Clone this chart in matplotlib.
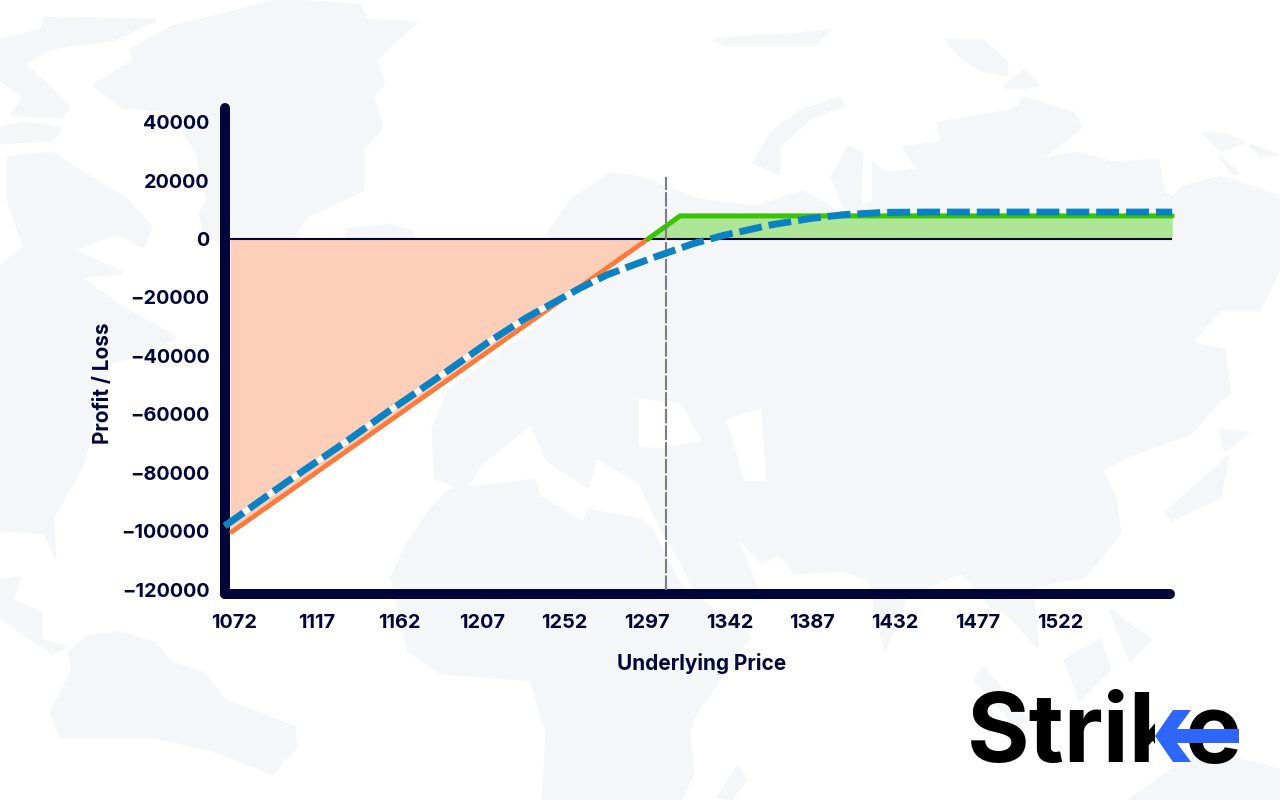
import numpy as np
import matplotlib
matplotlib.use("Agg")
import matplotlib.pyplot as plt
from matplotlib.patches import Polygon, Rectangle

# Chart values
x_ticks = [1072, 1117, 1162, 1207, 1252, 1297, 1342, 1387, 1432, 1477, 1522]
y_ticks = [40000, 20000, 0, -20000, -40000, -60000, -80000, -100000, -120000]

payoff_x = [1070, 1297.5, 1315, 1583]
payoff_y = [-100500, 0, 7900, 7900]

today_x = [1067, 1100, 1133.5, 1156, 1167, 1189, 1210, 1231, 1260.5, 1275, 1299.7, 1307.5, 1322, 1339, 1365, 1387, 1404, 1426, 1450, 1583]
today_y = [-98100, -83400, -69100, -59000, -54300, -44800, -35500, -27000, -16800, -12300, -6500, -4800, -1600, 1300, 4900, 7100, 8300, 9100, 9200, 9200]

current_price = 1307.5
navy = "#00053a"
font = "Inter"

# faint world map behind the chart, in pixels
land = [
    [(94,85),(135,60),(130,50),(171,27),(229,13),(278,0),(359,5),(367,20),(416,23),(375,60),(384,83),(373,97),(382,127),(363,150),(363,190),(306,217),(294,237),(229,247),(204,233),(200,213),(208,200),(196,150),(182,130),(192,113),(122,107)],
    [(0,40),(41,30),(45,18),(155,20),(114,40),(53,48),(24,63),(41,80),(69,107),(61,117),(12,115),(24,97),(0,80)],
    [(0,128),(24,123),(61,128),(53,140),(0,143)],
    [(8,157),(53,153),(73,167),(127,200),(151,227),(143,247),(118,233),(73,250),(122,273),(78,277),(122,307),(175,337),(147,353),(110,363),(82,467),(53,517),(55,557),(45,533),(0,530),(0,267),(24,247),(8,200)],
    [(0,580),(20,578),(12,600),(41,613),(41,640),(65,647),(53,653),(33,640),(0,617)],
    [(86,637),(118,632),(155,643),(171,663),(204,673),(224,700),(294,727),(296,747),(273,773),(212,750),(155,737),(61,737),(51,713),(73,670),(69,653)],
    [(347,240),(347,230),(390,225),(412,232),(412,240)],
    [(449,490),(535,480),(539,497),(584,523),(588,510),(640,520),(652,530),(681,587),(750,637),(693,717),(689,733),(693,773),(681,800),(543,800),(547,733),(531,680),(441,673),(408,650),(392,577),(408,543),(433,507)],
    [(433,428),(435,478),(465,490),(480,465),(531,423),(547,460),(588,487),(596,457),(640,483),(662,530),(681,560),(693,587),(762,600),(734,533),(762,563),(779,553),(795,573),(844,570),(869,580),(885,650),(905,600),(934,583),(962,573),(975,587),(991,607),(1007,613),(1038,647),(1032,587),(1064,580),(1085,577),(1120,533),(1115,497),(1101,470),(1126,457),(1191,433),(1220,400),(1230,393),(1224,350),(1191,343),(1220,310),(1260,310),(1280,267),(1280,197),(1220,177),(1183,187),(1173,197),(1164,193),(1158,160),(1113,163),(1077,153),(1040,160),(1081,127),(1073,113),(1024,98),(1015,110),(938,123),(942,143),(903,147),(918,170),(885,173),(873,163),(873,203),(840,213),(803,192),(754,207),(700,200),(640,178),(612,173),(571,200),(549,233),(575,285),(551,317),(449,390)],
    [(754,163),(771,133),(803,110),(840,98),(844,105),(811,117),(779,147),(779,173)],
    [(832,177),(848,147),(862,153),(860,207),(844,207)],
    [(1166,513),(1228,457),(1220,497),(1171,520)],
    [(1220,430),(1248,433),(1225,450)],
    [(1203,133),(1227,135),(1244,143),(1220,150)],
    [(1250,145),(1277,155),(1260,155)],
    [(1220,157),(1238,173),(1232,173)],
    [(714,40),(755,36),(790,35),(830,30),(815,45),(730,45)],
    [(946,40),(983,40),(1007,63),(1007,75),(981,70),(962,58)],
    [(1005,87),(1024,70),(1038,85),(1020,88)],
    [(983,667),(1027,720),(1015,725),(975,680)],
    [(1065,660),(1100,640),(1110,670),(1080,700)],
    [(1110,610),(1150,640),(1130,660)],
    [(1130,800),(1200,750),(1280,770),(1280,800)],
    [(718,797),(738,767),(746,780),(730,800)],
]
water = [
    [(640,400),(680,405),(700,440),(660,447),(640,445)],
    [(728,420),(760,410),(762,440),(765,480),(745,480),(738,455)],
]

fig = plt.figure(figsize=(12.8, 8), dpi=100, facecolor="white")

bg = fig.add_axes([0, 0, 1, 1])
bg.set_xlim(0, 1280)
bg.set_ylim(800, 0)
bg.axis("off")
for poly in land:
    bg.add_patch(Polygon(poly, closed=True, facecolor="#f5f6f7", edgecolor="#f5f6f7", lw=2, joinstyle="round"))
for poly in water:
    bg.add_patch(Polygon(poly, closed=True, facecolor="white", edgecolor="white", lw=2, joinstyle="round"))

# Logo: the k is cut to its stem, the blue arrow stands in for its arms
logo = bg.text(967, 762, "Strik", fontsize=69, fontweight="bold", family=font, color="black", va="baseline", ha="left")
logo.set_clip_path(Rectangle((0, 0), 1155, 800, transform=bg.transData))
logo.set_clip_on(True)
bg.text(1241, 762, "e", fontsize=69, fontweight="bold", family=font, color="black", va="baseline", ha="right")
bg.add_patch(Polygon([(1155,736),(1173,710),(1191,710),(1177,729),(1239,729),(1239,743),(1177,743),(1191,762),(1173,762)],
                     closed=True, facecolor="#2e66fb", edgecolor="none", zorder=5))

ax = fig.add_axes([225/1280, (800-594)/800, (1170-225)/1280, (594-108)/800])
ax.patch.set_alpha(0)
ax.set_xlim(1067.1, 1581.8)
ax.set_ylim(-121380, 44790)

ax.fill_between(payoff_x[:2], payoff_y[:2], 0, color="#fecfb8", lw=0, clip_on=False)
ax.fill_between(payoff_x[1:], payoff_y[1:], 0, color="#aee597", lw=0, clip_on=False)
ax.hlines(0, payoff_x[0], payoff_x[-1], color=navy, lw=1.5, clip_on=False, zorder=3)

# payoff at expiry
ax.plot(payoff_x[:2], payoff_y[:2], color="#ff7a3a", lw=3.4, solid_capstyle="butt", zorder=4)
ax.plot(payoff_x[1:], payoff_y[1:], color="#38c400", lw=3.6, solid_capstyle="round", solid_joinstyle="miter", clip_on=False, zorder=4)

ax.vlines(current_price, -120000, 21200, color="#7c7c90", lw=1.5, linestyles=(0, (7, 1)), zorder=5)

# today's value
ax.plot(today_x[:13], today_y[:13], color="white", lw=4.2, zorder=6, clip_on=False, solid_capstyle="butt")
ax.plot(today_x, today_y, color="#0a82c4", lw=5.0, linestyle=(0, (3.3, 1.0)), dash_capstyle="butt", zorder=7, clip_on=False)

for side in ("top", "right"):
    ax.spines[side].set_visible(False)
for side in ("left", "bottom"):
    ax.spines[side].set_linewidth(7.2)
    ax.spines[side].set_color(navy)
    ax.spines[side].set_capstyle("round")

ax.set_xticks(x_ticks)
ax.set_xticklabels([str(v) for v in x_ticks])
ax.set_yticks(y_ticks)
ax.set_yticklabels([str(v).replace("-", "\u2212") for v in y_ticks])
ax.tick_params(axis="both", length=0, labelsize=14.3, labelcolor=navy)
ax.tick_params(axis="x", pad=14.5)
ax.tick_params(axis="y", pad=11)
for lab in ax.get_xticklabels() + ax.get_yticklabels():
    lab.set_family(font)
    lab.set_fontweight("bold")

fig.text(702/1280, 1-663/800, "Underlying Price", fontsize=15, fontweight="bold", family=font, color=navy, ha="center", va="center")
fig.text(103/1280, 1-383/800, "Profit / Loss", fontsize=14.9, fontweight="bold", family=font, color=navy, ha="center", va="center", rotation=90)

fig.savefig("out.png", dpi=100)
